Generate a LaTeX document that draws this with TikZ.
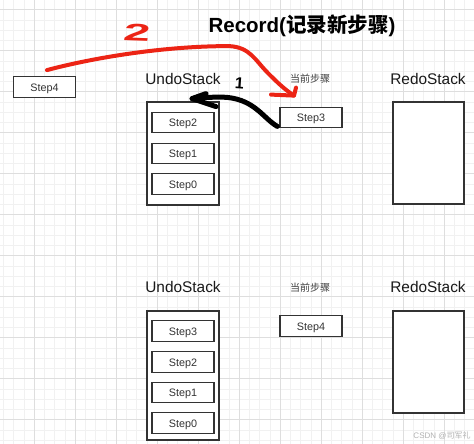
\documentclass[tikz,border=0pt]{standalone}
\usepackage{fontspec}
\setmainfont{Liberation Sans}
\newfontfamily\cjk{Noto Sans CJK SC}
\usetikzlibrary{calc}
\definecolor{gminor}{HTML}{F1F1F1}
\definecolor{gmajor}{HTML}{DEDEDE}
\definecolor{boxline}{HTML}{333333}
\definecolor{penred}{HTML}{EC2415}
\tikzset{
  gridminor/.style={gminor, line width=0.5pt},
  gridmajor/.style={gmajor, line width=0.9pt},
  stepbox/.style={draw=boxline, fill=white, line width=1.3pt, minimum width=62pt, minimum height=20.5pt, inner sep=0pt, text height=9.5pt, text depth=1pt, font=\fontsize{10.8}{12}\selectfont, text=black!80},
  stackbox/.style={draw=boxline, fill=white, line width=1.3pt, minimum width=72pt, inner sep=0pt},
  stacklabel/.style={font=\fontsize{15.4}{18}\selectfont, text=black!90},
  curlabel/.style={font=\cjk\fontsize{10}{12}\selectfont, text=black!75},
  redpen/.style={penred, line width=4pt, line cap=round, line join=round},
  blackpen/.style={black, line width=5pt, line cap=round, line join=round},
}
\begin{document}
\begin{tikzpicture}[x=1pt,y=-1pt]
\useasboundingbox (0,0) rectangle (474,444);
\fill[white] (0,0) rectangle (474,444);
% grid
\foreach \k in {-4,...,43} \draw[gridminor] ({34+10.25*\k},0) -- ({34+10.25*\k},444);
\foreach \k in {-1,...,43} \draw[gridminor] (0,{9.7+10.25*\k}) -- (474,{9.7+10.25*\k});
\foreach \k in {-1,...,11} \draw[gridmajor] ({34+41*\k},0) -- ({34+41*\k},444);
\foreach \k in {0,...,11} \draw[gridmajor] (0,{9.7+41*\k}) -- (474,{9.7+41*\k});

% title
\node[font=\bfseries\fontsize{20.5}{24}\selectfont] (title) at (302,26) {Record({\cjk\bfseries 记录新步骤})};

% ---- top state ----
\node[stepbox] (step4a) at (44.5,87) {Step4};
\node[stacklabel] (undolab1) at (183,79) {UndoStack};
\node[curlabel] (curlab1) at (310,79) {当前步骤};
\node[stacklabel] (redolab1) at (428,79) {RedoStack};
\node[stackbox, minimum height=103pt] (undo1) at (183,153.5) {};
\node[stepbox] (u1s2) at (183,122.5) {Step2};
\node[stepbox] (u1s1) at (183,153.5) {Step1};
\node[stepbox] (u1s0) at (183,184) {Step0};
\node[stepbox] (step3a) at (311,117.5) {Step3};
\node[stackbox, minimum width=71pt, minimum height=102pt] (redo1) at (428.5,153) {};

% ---- bottom state ----
\node[stacklabel] (undolab2) at (183,287) {UndoStack};
\node[curlabel] (curlab2) at (310,288) {当前步骤};
\node[stacklabel] (redolab2) at (428,287) {RedoStack};
\node[stackbox, minimum height=129pt] (undo2) at (183,375.5) {};
\node[stepbox] (u2s3) at (183,331) {Step3};
\node[stepbox] (u2s2) at (183,362) {Step2};
\node[stepbox] (u2s1) at (183,392.5) {Step1};
\node[stepbox] (u2s0) at (183,423) {Step0};
\node[stepbox] (step4b) at (311,326) {Step4};
\node[stackbox, minimum width=71pt, minimum height=102pt] (redo2) at (428.5,362) {};

% watermark
\node[font=\fontsize{8}{9}\selectfont, text=black!30] (wm) at (442,436) {CSDN @{\cjk 司军礼}};

% ---- hand-drawn arrows ----
% 1: Step3 -> UndoStack
\coordinate (b0) at ($(step3a.south west)+(-2,-2)$);
\coordinate (b1) at ($(u1s2.north)+(9,-13)$);
\draw[blackpen] (b0) .. controls ($(b0)+(-14,-8)$) and ($(b0)+(-22,-26)$) .. ($(b0)+(-50,-29)$)
  .. controls ($(b0)+(-66,-30)$) and ($(b0)+(-78,-28)$) .. (b1);
\draw[blackpen] ($(b1)+(24,8)$) -- (b1) -- ($(b1)+(14,-5)$);
\node[font=\bfseries\fontsize{16}{18}\selectfont, rotate=-4] (one) at (239.5,83) {1};

% 2: Step4 -> current step
\coordinate (r0) at ($(step4a.north)+(2.5,-6)$);
\coordinate (r1) at ($(step3a.north)+(-17,-11)$);
\draw[redpen] (r0) .. controls ($(r0)+(45,-12)$) and ($(r0)+(115,-24)$) .. ($(r0)+(182,-24)$)
  .. controls ($(r0)+(203,-23)$) and ($(r0)+(208,-10)$) .. ($(r0)+(221,3)$)
  .. controls ($(r0)+(229,11)$) and ($(r0)+(237,19)$) .. (r1);
\draw[redpen] ($(r1)+(-23,-1)$) -- (r1) -- ($(r1)+(2,-8)$);
\node[text=penred, font=\bfseries\fontsize{24}{26}\selectfont, xscale=2, rotate=-4] (two) at (137,33) {2};
\end{tikzpicture}
\end{document}
